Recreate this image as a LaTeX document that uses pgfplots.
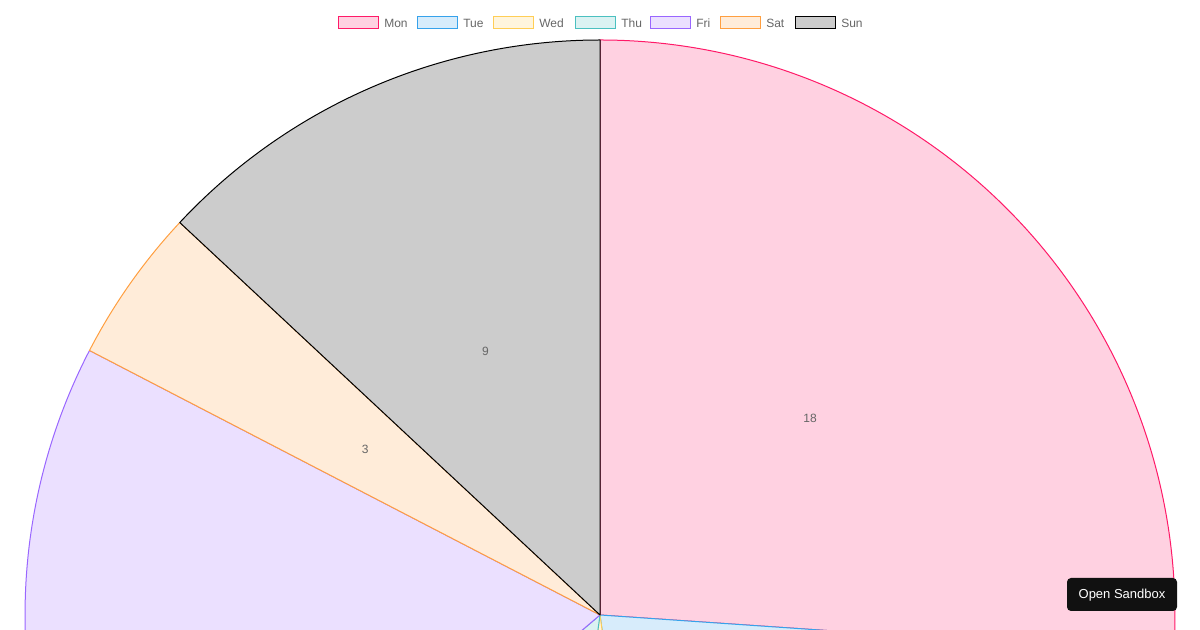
\documentclass[border=0pt]{standalone}
\usepackage{pgfplots}
\usepackage{pgfplotstable}
\pgfplotsset{compat=1.18}
\usepackage{fontspec}
\setmainfont{Liberation Sans}
\definecolor{c0}{RGB}{255,26,104}\definecolor{f0}{RGB}{255,209,225}
\definecolor{c1}{RGB}{54,162,235}\definecolor{f1}{RGB}{215,236,251}
\definecolor{c2}{RGB}{255,206,86}\definecolor{f2}{RGB}{255,245,221}
\definecolor{c3}{RGB}{75,192,192}\definecolor{f3}{RGB}{219,242,242}
\definecolor{c4}{RGB}{153,102,255}\definecolor{f4}{RGB}{235,224,255}
\definecolor{c5}{RGB}{255,159,64}\definecolor{f5}{RGB}{255,236,217}
\definecolor{c6}{RGB}{0,0,0}\definecolor{f6}{RGB}{204,204,204}
\definecolor{labelgray}{RGB}{102,102,102}
\definecolor{btn}{RGB}{17,17,17}
\newcommand{\labelfont}{\fontsize{9}{11}\selectfont}
\newcommand{\legfont}{\fontsize{9}{11}\selectfont}
\pgfplotstableread{
day value
Mon 18
Tue 15
Wed 3
Thu 8
Fri 13
Sat 3
Sun 9
}\piedata
\begin{document}
\begin{tikzpicture}
\begin{axis}[
  hide axis, scale only axis,
  x=0.75pt, y=0.75pt,
  xmin=0, xmax=1200, ymin=0, ymax=630,
  anchor=south west, at={(0,0)},
  clip=true,
]
\def\total{0}
\pgfplotsforeachungrouped \i in {0,...,6}{%
  \pgfplotstablegetelem{\i}{value}\of\piedata
  \pgfmathsetmacro{\total}{\total+\pgfplotsretval}%
}
\def\startang{90}
\pgfplotsforeachungrouped \i in {0,...,6}{%
  \pgfplotstablegetelem{\i}{value}\of\piedata
  \let\val\pgfplotsretval
  \pgfmathsetmacro{\endang}{\startang-\val*360/\total}%
  \pgfmathsetmacro{\sx}{600+575*cos(\startang)}%
  \pgfmathsetmacro{\sy}{15+575*sin(\startang)}%
  \pgfmathsetmacro{\midang}{(\startang+\endang)/2}%
  \pgfmathsetmacro{\lx}{600+287.5*cos(\midang)}%
  \pgfmathsetmacro{\ly}{15+287.5*sin(\midang)}%
  \edef\temp{\noexpand\filldraw[fill=f\i, draw=c\i, line width=0.75pt, line join=round] (axis cs:600,15) -- (axis cs:\sx,\sy) arc[start angle=\startang, end angle=\endang, radius=431.25pt] -- cycle;
   \noexpand\node[text=labelgray, font=\noexpand\labelfont] at (axis cs:\lx,\ly) {\val};}%
  \temp
  \let\startang\endang
}
\end{axis}
\begin{scope}[x=0.75pt,y=-0.75pt,shift={(0pt,472.5pt)}]
\foreach \bx/\nm/\k in {338/Mon/0, 417/Tue/1, 493/Wed/2, 575/Thu/3, 650/Fri/4, 720/Sat/5, 795/Sun/6}{
  \filldraw[fill=f\k, draw=c\k, line width=0.75pt] (\bx,17) rectangle (\bx+40,29);
  \node[anchor=west, inner sep=0pt, text=labelgray, font=\legfont] at (\bx+46,23) {\nm};
}
\fill[btn, rounded corners=3pt] (1067,578) rectangle (1177,611);
\node[text=white, font=\fontsize{9.75}{11}\selectfont] at (1122,595) {Open Sandbox};
\end{scope}
\pgfresetboundingbox
\useasboundingbox (0,0) rectangle (900pt,472.5pt);
\end{tikzpicture}
\end{document}
